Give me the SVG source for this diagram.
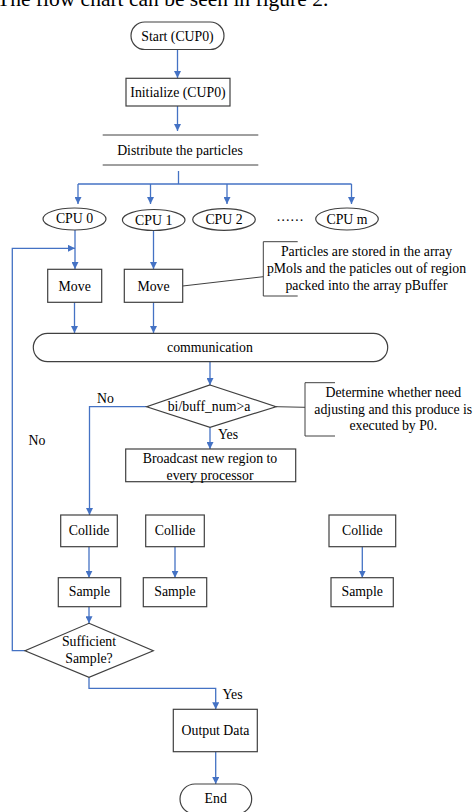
<svg xmlns="http://www.w3.org/2000/svg" width="474" height="812" viewBox="0 0 474 812">
<defs>
<marker id="ah" viewBox="0 0 10 10" refX="10" refY="5" markerWidth="7" markerHeight="7" markerUnits="userSpaceOnUse" orient="auto">
<path d="M0,0 L10,5 L0,10 z" fill="#4472C4"/>
</marker>
</defs>
<style>
text{font-family:"Liberation Serif","Times New Roman",serif;font-size:13.8px;fill:#000;text-anchor:middle;dominant-baseline:central}
.shape{fill:#fff;stroke:#404040;stroke-width:1.2}
.line{fill:none;stroke:#404040;stroke-width:1}
.conn{fill:none;stroke:#4472C4;stroke-width:1.3}
.arr{marker-end:url(#ah)}
.lbl{text-anchor:start}
</style>
<rect width="474" height="812" fill="#fff"/>
<text x="-3" y="6" style="font-size:21.5px;text-anchor:start;dominant-baseline:auto">The flow chart can be seen in figure 2.</text>

<g id="connectors">
<path class="conn arr" d="M177.5,49 V78"/>
<path class="conn arr" d="M177.5,106 V131"/>
<path class="conn" d="M178.5,171 V184"/>
<path class="conn" d="M78,184 H351.5"/>
<path class="conn arr" d="M78,184 V204"/>
<path class="conn arr" d="M150.5,184 V204"/>
<path class="conn arr" d="M227,184 V204"/>
<path class="conn arr" d="M351.5,184 V204"/>
<path class="conn arr" d="M75,230 V269"/>
<path class="conn arr" d="M153.5,230 V269"/>
<path class="conn arr" d="M74.5,302 V333"/>
<path class="conn arr" d="M153.5,302 V333"/>
<path class="conn arr" d="M210,362 V385"/>
<path class="conn arr" d="M146.7,406.7 H89.5 V515"/>
<path class="conn arr" d="M210,427.3 V449"/>
<path class="conn arr" d="M89,546.7 V577.7"/>
<path class="conn arr" d="M175,546.7 V577.7"/>
<path class="conn arr" d="M362.3,546.7 V577.7"/>
<path class="conn arr" d="M89,606.7 V623.3"/>
<path class="conn arr" d="M25,650.7 H12.3 V248.3 H75"/>
<path class="conn arr" d="M89,677.3 V688.3 H215.7 V709.3"/>
<path class="conn arr" d="M215.7,751.7 V784"/>
<path class="line" d="M182.7,286 L263.3,276.7"/>
<path class="line" d="M276,406.7 L305,407.3"/>
</g>

<g id="start">
<rect class="shape" x="131" y="22" width="93" height="27.5" rx="13.75"/>
<text x="177.5" y="36">Start (CUP0)</text>
</g>
<g id="initialize">
<rect class="shape" x="126" y="78.3" width="104" height="27.7"/>
<text x="178" y="92">Initialize (CUP0)</text>
</g>
<g id="distribute">
<path class="line" d="M102.7,135 H258.3 M102.7,165 H258.3"/>
<text x="180" y="150">Distribute the particles</text>
</g>
<g id="cpu0">
<ellipse class="shape" cx="74.5" cy="219" rx="31.5" ry="11"/>
<text x="74.5" y="218.5">CPU 0</text>
</g>
<g id="cpu1">
<ellipse class="shape" cx="153.7" cy="220" rx="31.3" ry="10.5"/>
<text x="153.7" y="220">CPU 1</text>
</g>
<g id="cpu2">
<ellipse class="shape" cx="224" cy="219.5" rx="31.3" ry="10.8"/>
<text x="224" y="219.5">CPU 2</text>
</g>
<g id="dots">
<text x="290" y="216">……</text>
</g>
<g id="cpum">
<ellipse class="shape" cx="347" cy="219" rx="31.3" ry="11"/>
<text x="347" y="219">CPU m</text>
</g>
<g id="move0">
<rect class="shape" x="47.7" y="269.3" width="54" height="33"/>
<text x="74.7" y="286">Move</text>
</g>
<g id="move1">
<rect class="shape" x="124.3" y="269.3" width="58.4" height="33"/>
<text x="153.5" y="286">Move</text>
</g>
<g id="note-move">
<path class="line" d="M297.7,241.7 H263.3 V296 H297.7"/>
<text x="366.5" y="251.5">Particles are stored in the array</text>
<text x="366.5" y="268.5">pMols and the paticles out of region</text>
<text x="366.5" y="285.5">packed into the array pBuffer</text>
</g>
<g id="communication">
<rect class="shape" x="33.3" y="333.3" width="354.4" height="28.4" rx="14.2"/>
<text x="210" y="347">communication</text>
</g>
<g id="decision-buff">
<path class="shape" d="M210,385 L276,406.7 L210,427.3 L146.7,406.7 Z"/>
<text x="209" y="406">bi/buff_num&gt;a</text>
</g>
<g id="note-adjust">
<path class="line" d="M335,382.7 H305 V436 H335"/>
<text x="393.3" y="392.5">Determine whether need</text>
<text x="393.3" y="409">adjusting and this produce is</text>
<text x="393.3" y="425.5">executed by P0.</text>
</g>
<g id="broadcast">
<rect class="shape" x="125.7" y="449" width="170" height="32.7"/>
<text x="210" y="458.5">Broadcast new region to</text>
<text x="210" y="475">every processor</text>
</g>
<g id="labels">
<text class="lbl" x="97" y="398.5">No</text>
<text class="lbl" x="218" y="434.5">Yes</text>
<text class="lbl" x="28.5" y="440">No</text>
<text class="lbl" x="222.5" y="694">Yes</text>
</g>
<g id="collide0">
<rect class="shape" x="60.7" y="515" width="56.6" height="31.7"/>
<text x="89" y="530.5">Collide</text>
</g>
<g id="collide1">
<rect class="shape" x="145.7" y="515" width="58.6" height="31.7"/>
<text x="175" y="530.5">Collide</text>
</g>
<g id="collidem">
<rect class="shape" x="329" y="515" width="66.7" height="31.7"/>
<text x="362.3" y="530.5">Collide</text>
</g>
<g id="sample0">
<rect class="shape" x="58.3" y="577.7" width="62.4" height="29"/>
<text x="89.5" y="591.5">Sample</text>
</g>
<g id="sample1">
<rect class="shape" x="143.3" y="577.7" width="63.4" height="29"/>
<text x="175" y="591.5">Sample</text>
</g>
<g id="samplem">
<rect class="shape" x="331" y="577.7" width="62.3" height="29"/>
<text x="362.2" y="591.5">Sample</text>
</g>
<g id="decision-sufficient">
<path class="shape" d="M89,623.3 L153.3,650.7 L89,677.3 L25,650.7 Z"/>
<text x="89" y="641.7">Sufficient</text>
<text x="89" y="658.3">Sample?</text>
</g>
<g id="output">
<rect class="shape" x="173.3" y="709.3" width="84" height="42.4"/>
<text x="215.5" y="730.5">Output Data</text>
</g>
<g id="end">
<rect class="shape" x="180" y="784" width="71.7" height="30" rx="15"/>
<text x="215.7" y="798.3">End</text>
</g>
</svg>
